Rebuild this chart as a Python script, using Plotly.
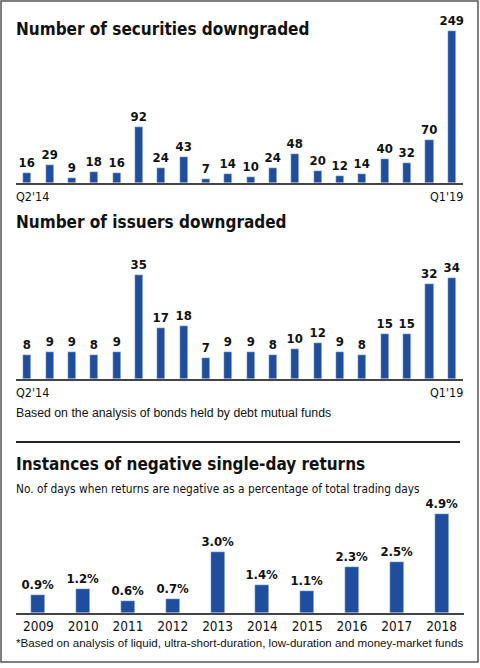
import plotly.graph_objects as go

# data
quarters = ["Q2'14", "Q3'14", "Q4'14", "Q1'15", "Q2'15", "Q3'15", "Q4'15", "Q1'16",
            "Q2'16", "Q3'16", "Q4'16", "Q1'17", "Q2'17", "Q3'17", "Q4'17", "Q1'18",
            "Q2'18", "Q3'18", "Q4'18", "Q1'19"]
securities = [16, 29, 9, 18, 16, 92, 24, 43, 7, 14, 10, 24, 48, 20, 12, 14, 40, 32, 70, 249]
issuers = [8, 9, 9, 8, 9, 35, 17, 18, 7, 9, 9, 8, 10, 12, 9, 8, 15, 15, 32, 34]
years = ["2009", "2010", "2011", "2012", "2013", "2014", "2015", "2016", "2017", "2018"]
neg_pct = [0.9, 1.2, 0.6, 0.7, 3.0, 1.4, 1.1, 2.3, 2.5, 4.9]

W, H = 480, 668
BLUE = "#1f4e9e"
NARROW = "Liberation Sans Narrow, DejaVu Sans Condensed, Arial Narrow, sans-serif"
REG = "Liberation Sans, Arial, sans-serif"

def px(x):
    return x / W

def py(y):
    return 1 - y / H

label_font = dict(family=NARROW, size=13, color="#111", weight="bold")

fig = go.Figure()

fig.add_trace(go.Bar(x=quarters, y=securities, marker_color=BLUE, width=0.36,
                     text=securities, textposition="outside", cliponaxis=False,
                     constraintext="none", textfont=label_font,
                     xaxis="x", yaxis="y"))
fig.add_trace(go.Bar(x=quarters, y=issuers, marker_color=BLUE, width=0.36,
                     text=issuers, textposition="outside", cliponaxis=False,
                     constraintext="none", textfont=label_font,
                     xaxis="x2", yaxis="y2"))
fig.add_trace(go.Bar(x=years, y=neg_pct, marker_color=BLUE, width=0.31,
                     text=[f"{v:.1f}%" for v in neg_pct], textposition="outside", cliponaxis=False,
                     constraintext="none", textfont=label_font,
                     xaxis="x3", yaxis="y3"))

axis_common = dict(showline=True, linecolor="#444", linewidth=1.5, ticks="", showgrid=False,
                   zeroline=False, fixedrange=True)

fig.update_layout(
    width=W, height=H, showlegend=False, bargap=0,
    margin=dict(l=0, r=0, t=0, b=0),
    paper_bgcolor="white", plot_bgcolor="white",
    xaxis=dict(domain=[px(16), px(463)], range=[-0.5, 19.5], showticklabels=False,
               anchor="y", **axis_common),
    yaxis=dict(domain=[py(183), py(18)], range=[0, 270.3], visible=False, anchor="x"),
    xaxis2=dict(domain=[px(16), px(463)], range=[-0.5, 19.5], showticklabels=False,
                anchor="y2", **axis_common),
    yaxis2=dict(domain=[py(379), py(250)], range=[0, 43.4], visible=False, anchor="x2"),
    xaxis3=dict(domain=[px(16), px(464)], range=[-0.5, 9.5], anchor="y3",
                ticklabelstandoff=0,
                tickfont=dict(family=NARROW, size=13.5, color="#111"), **axis_common),
    yaxis3=dict(domain=[py(613), py(500)], range=[0, 5.59], visible=False, anchor="x3"),
)

def note(text, x, y, size, family, bold=False, xanchor="left", color="#111"):
    fig.add_annotation(text=text, x=px(x), y=py(y), xref="paper", yref="paper",
                       xanchor=xanchor, yanchor="middle", showarrow=False, borderpad=0,
                       font=dict(family=family, size=size, color=color,
                                 weight="bold" if bold else "normal"))

note("Number of securities downgraded", 15, 29, 17, NARROW, bold=True)
note(quarters[0], 15, 197, 12.5, NARROW)
note(quarters[-1], 464, 197, 12.5, NARROW, xanchor="right")
note("Number of issuers downgraded", 15, 222, 17, NARROW, bold=True)
note(quarters[0], 15, 393, 12.5, NARROW)
note(quarters[-1], 464, 393, 12.5, NARROW, xanchor="right")
note("Based on the analysis of bonds held by debt mutual funds", 15, 413, 12.3, REG)
note("Instances of negative single-day returns", 15, 464, 17, NARROW, bold=True)
note("No. of days when returns are negative as a percentage of total trading days", 15, 489, 11.8, NARROW)
note("*Based on analysis of liquid, ultra-short-duration, low-duration and money-market funds",
     15, 642, 11.6, REG)

# separator and frame
fig.add_shape(type="line", xref="paper", yref="paper", x0=px(16), x1=px(460),
              y0=py(442), y1=py(442), line=dict(color="#222", width=2))
fig.add_shape(type="rect", xref="paper", yref="paper", x0=px(1), x1=px(478),
              y0=py(662), y1=py(1), line=dict(color="#555", width=1.5))

fig.write_html("out.html", config={"displayModeBar": False},
               post_script="document.body.style.margin='0';")
